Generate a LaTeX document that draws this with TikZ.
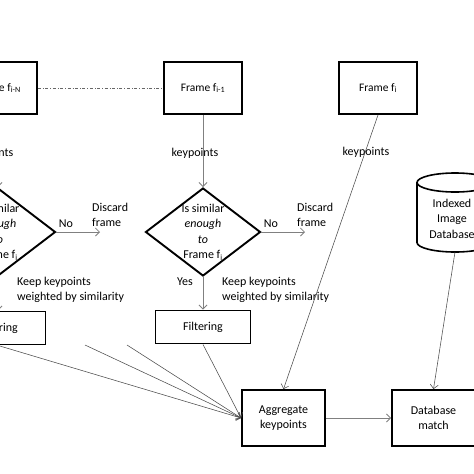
\documentclass[tikz,border=0pt]{standalone}
\usepackage{fontspec}
\setmainfont{Carlito}
\usetikzlibrary{shapes.geometric,arrows.meta}

\tikzset{
  framebox/.style={draw, line width=1.9pt, minimum width=78pt, minimum height=52pt, font=\fontsize{11.5}{13}\selectfont},
  procbox/.style={draw, line width=1.9pt, minimum width=83pt, minimum height=56pt, align=center},
  filterbox/.style={draw, line width=1.9pt, minimum width=95pt, minimum height=33pt},
  decision/.style={draw, diamond, line width=1.9pt, minimum width=115pt, minimum height=88pt, inner sep=0pt},
  flow/.style={draw=black!50, line width=0.8pt, -{Straight Barb[length=4pt,width=8pt]}},
  feed/.style={draw=black!70, line width=0.55pt, -{Straight Barb[length=4pt,width=8pt]}},
  lbl/.style={align=left, inner sep=0pt}
}

\begin{document}
\begin{tikzpicture}[x=1pt, y=-1pt, font=\fontsize{12}{15.5}\selectfont]
    \useasboundingbox (0, 0) rectangle (474, 474);
    \clip (0, 0) rectangle (474, 474);
    % FRAMES
    \node[framebox] (fN) at (-2, 88) {Frame f\textsubscript{i-N}};
    \node[framebox] (f1) at (203, 88) {Frame f\textsubscript{i-1}};
    \node[framebox] (fi) at (378, 88) {Frame f\textsubscript{i}};
    \draw[black!60, dash dot] (fN) -- (f1);
    % DECISIONS
    \node[decision] (dN) at (-2, 232) {};
    \node[align=center] at (dN) {Is similar\\\textit{enough}\\\textit{to}\\Frame f\textsubscript{i}};
    \node[decision] (d1) at (203, 232) {};
    \node[align=center] at (d1) {Is similar\\\textit{enough}\\\textit{to}\\Frame f\textsubscript{i}};
    % FILTERING
    \node[filterbox] (filtN) at (-2, 328) {Filtering};
    \node[filterbox] (filt1) at (203, 327) {Filtering};
    % AGGREGATION AND MATCHING
    \node[procbox] (agg) at (283.5, 418) {Aggregate\\keypoints};
    \node[procbox] (dbm) at (433.5, 418) {Database\\match};
    % DATABASE CYLINDER
    \draw[line width=1.6pt] (455, 182.5) ellipse [x radius=38pt, y radius=9.5pt];
    \draw[line width=1.6pt] (417, 182.5) -- (417, 242.5) arc [start angle=180, end angle=360, x radius=38pt, y radius=9.5pt] -- (493, 182.5);
    \node[align=center] (db) at (452, 218.5) {Indexed\\Image\\Database};
    \coordinate (dbbot) at (455, 252);
    \coordinate (discN) at (100, 232);
    \coordinate (disc1) at (305, 232);
    \coordinate (k2) at (85, 345);
    \coordinate (k3) at (127, 345);
    % COLUMN i-N
    \draw[flow] (fN) -- (dN);
    \draw[flow] (dN) -- (filtN);
    \draw[flow] (dN.east) -- (discN);
    \node at (-10, 153) {keypoints};
    \node at (66, 224) {No};
    \node[lbl, anchor=west] at (92, 215) {Discard\\frame};
    \node[lbl, anchor=west] at (17, 290) {Keep keypoints\\weighted by similarity};
    % COLUMN i-1
    \draw[flow] (f1) -- (d1);
    \draw[flow] (d1) -- (filt1);
    \draw[flow] (d1.east) -- (disc1);
    \node at (195, 153) {keypoints};
    \node at (271, 224) {No};
    \node at (185, 282) {Yes};
    \node[lbl, anchor=west] at (297, 215) {Discard\\frame};
    \node[lbl, anchor=west] at (222, 290) {Keep keypoints\\weighted by similarity};
    % CURRENT FRAME
    \draw[feed] (fi.south) -- (agg.north);
    \node at (366, 152) {keypoints};
    \draw[feed] (filtN.south) -- (agg.west);
    \draw[feed] (k2) -- (agg.west);
    \draw[feed] (k3) -- (agg.west);
    \draw[feed] (filt1.south) -- (agg.west);
    \draw[feed] (dbbot) -- (dbm.north);
    \draw[flow] (agg) -- (dbm);
\end{tikzpicture}
\end{document}
